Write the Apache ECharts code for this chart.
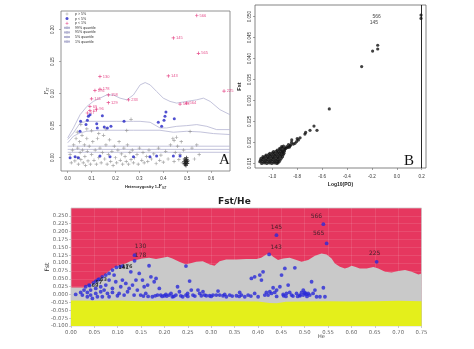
<!DOCTYPE html>
<html><head><meta charset="utf-8">
<script src="https://cdn.jsdelivr.net/npm/echarts@6/dist/echarts.min.js"></script>
<style>html,body{margin:0;padding:0;background:#fff}#c{width:474px;height:349px}</style>
</head><body><div id="c"></div>
<script>
// ================= Panel A (FST vs heterozygosity) =================
const aXTicks = [0, 0.1, 0.2, 0.3, 0.4, 0.5, 0.6];
const aYTicks = [0, 0.05, 0.10, 0.15, 0.20];
const aLegendNames = ['p > 5%', 'p < 5%', 'p < 1%', '99% quantile', '95% quantile', '5% quantile', '1% quantile'];
const aQ99 = [[0,0.031],[0.024,0.0465],[0.052,0.0672],[0.08,0.080],[0.107,0.0879],[0.135,0.093],[0.163,0.098],[0.191,0.098],[0.219,0.093],[0.247,0.0904],[0.275,0.098],[0.303,0.1137],[0.324,0.1173],[0.345,0.1137],[0.372,0.1034],[0.40,0.093],[0.428,0.0879],[0.456,0.0853],[0.498,0.0879],[0.54,0.0904],[0.568,0.093],[0.596,0.0879],[0.637,0.075],[0.679,0.0672]];
const aQ95 = [[0,0.0284],[0.024,0.0388],[0.052,0.0543],[0.08,0.0568],[0.135,0.0568],[0.205,0.0568],[0.275,0.0568],[0.303,0.0568],[0.345,0.0553],[0.386,0.0465],[0.414,0.0465],[0.456,0.049],[0.498,0.0501],[0.54,0.0517],[0.582,0.049],[0.623,0.0439],[0.679,0.0439]];
const aQ90 = [[0,0.0233],[0.024,0.0336],[0.052,0.0388],[0.08,0.0413],[0.135,0.0429],[0.275,0.0429],[0.386,0.0429],[0.442,0.0398],[0.498,0.0413],[0.554,0.0403],[0.61,0.0377],[0.679,0.0362]];
const aQ05 = [[0,0.018],[0.679,0.018]];
const aQ01 = [[0,0.013],[0.679,0.013]];
const aQ00 = [[0,0.0085],[0.679,0.0085]];
const aGrey = [[0.01,0.005],[0.015,-0.008],[0.02,0.012],[0.025,0.02],[0.03,-0.005],[0.035,0.03],[0.04,0.0],[0.042,0.015],[0.045,-0.01],[0.05,0.025],[0.052,0.008],[0.055,-0.003],[0.06,0.035],[0.062,0.012],[0.065,-0.008],[0.07,0.02],[0.072,0.002],[0.075,-0.012],[0.08,0.03],[0.082,0.01],[0.085,-0.005],[0.09,0.018],[0.095,-0.01],[0.1,0.005],[0.105,0.025],[0.11,-0.004],[0.115,0.012],[0.12,-0.01],[0.125,0.03],[0.13,0.0],[0.135,0.015],[0.14,-0.008],[0.145,0.008],[0.15,0.035],[0.155,-0.002],[0.16,0.02],[0.165,-0.01],[0.17,0.005],[0.175,0.028],[0.18,-0.006],[0.185,0.01],[0.19,-0.012],[0.195,0.018],[0.2,0.0],[0.205,-0.008],[0.21,0.012],[0.215,0.025],[0.22,-0.004],[0.225,0.006],[0.23,-0.01],[0.235,0.015],[0.24,0.002],[0.245,-0.006],[0.25,0.02],[0.255,-0.01],[0.26,0.008],[0.265,-0.003],[0.27,0.012],[0.275,-0.008],[0.28,0.0],[0.29,0.005],[0.295,-0.01],[0.3,0.015],[0.31,-0.004],[0.315,0.008],[0.32,-0.008],[0.33,0.002],[0.335,-0.006],[0.34,0.012],[0.35,-0.002],[0.36,0.006],[0.37,-0.009],[0.38,0.015],[0.385,-0.004],[0.39,0.004],[0.4,-0.007],[0.41,0.01],[0.42,-0.002],[0.43,0.02],[0.44,0.03],[0.445,-0.006],[0.45,0.008],[0.46,0.018],[0.465,-0.003],[0.47,0.005],[0.475,0.025],[0.48,-0.008],[0.485,0.012],[0.52,0.015],[0.53,-0.002],[0.54,0.02],[0.55,0.005],[0.04,0.04],[0.055,0.052],[0.08,0.045],[0.1,0.042],[0.13,0.038],[0.16,0.045],[0.247,0.0424],[0.265,0.06],[0.512,0.041],[0.445,0.027],[0.455,0.032]];
const aDense = [[0.488,-0.006],[0.49,-0.009],[0.492,-0.004],[0.494,-0.01],[0.496,-0.007],[0.498,-0.003],[0.5,-0.009],[0.502,-0.005],[0.49,-0.002],[0.495,-0.012],[0.497,0.0],[0.493,-0.007],[0.499,-0.006],[0.491,-0.011]];
const aBlue = [[0.0516,0.0413],[0.0767,0.0517],[0.0823,0.0584],[0.0865,0.0646],[0.0934,0.0672],[0.1213,0.0532],[0.145,0.0656],[0.124,0.0465],[0.153,0.0481],[0.166,0.0465],[0.181,0.049],[0.2357,0.0568],[0.379,0.0553],[0.393,0.049],[0.403,0.0584],[0.407,0.0646],[0.411,0.0713],[0.446,0.061],[0.054,0.057],[0.01,0.0],[0.031,0.0015],[0.045,0.0],[0.135,0.0026],[0.177,0.0015],[0.275,0.0015],[0.344,0.0015],[0.372,0.0026],[0.442,0.0026],[0.47,0.0026]];
const aRed = [[0.54,0.222,'566'],[0.442,0.187,'145'],[0.547,0.163,'565'],[0.421,0.1276,'143'],[0.654,0.104,'225'],[0.135,0.1266,'130'],[0.135,0.107,'178'],[0.17,0.098,'158'],[0.254,0.0904,'233'],[0.114,0.105,'176'],[0.1,0.092,'141'],[0.17,0.086,'129'],[0.121,0.076,'96'],[0.093,0.080,'69'],[0.093,0.0734,'63'],[0.082,0.0698,'57'],[0.47,0.0837,'563'],[0.498,0.0853,'564']];

// ================= Panel B (FST vs log10(PO)) =================
const bXTicks = [-1.0, -0.8, -0.6, -0.4, -0.2, 0.0, 0.2];
const bYTicks = [0.015, 0.020, 0.025, 0.030, 0.035, 0.040, 0.045, 0.050];
const bThreshold = 0.2;
const bLabels = [[-0.161,0.0500,'566'],[-0.183,0.0486,'145']];
const bPts = [[0.195,0.0504],[0.195,0.0496],[-0.153,0.0432],[-0.153,0.0423],[-0.194,0.0418],[-0.282,0.0381],[-0.542,0.0280],
[-0.641,0.0229],[-0.665,0.0239],[-0.697,0.0229],[-0.732,0.0224],[-0.738,0.0220],[-0.777,0.0211],[-0.79,0.0206],[-0.805,0.0202],[-0.80,0.0209],[-0.818,0.0198],[-0.831,0.0196],[-0.844,0.0206],[-0.845,0.0200],[-0.852,0.0194],[-0.858,0.0192],[-0.862,0.0189],[-0.87,0.0195],[-0.875,0.0188],[-0.885,0.0190],[-0.89,0.0186],
[-1.085,0.0150],[-1.065,0.0151],[-1.045,0.0150],[-1.025,0.0151],[-1.005,0.0150],[-0.985,0.0151],[-0.965,0.0150],[-0.955,0.0151],
[-1.10,0.0154],[-1.08,0.0155],[-1.06,0.0154],[-1.04,0.0155],[-1.02,0.0154],[-1.00,0.0155],[-0.98,0.0154],[-0.96,0.0155],[-0.945,0.0154],
[-1.095,0.0158],[-1.075,0.0159],[-1.055,0.0158],[-1.035,0.0159],[-1.015,0.0158],[-0.995,0.0159],[-0.975,0.0158],[-0.955,0.0159],[-0.937,0.0158],
[-1.09,0.0162],[-1.07,0.0163],[-1.05,0.0162],[-1.03,0.0163],[-1.01,0.0162],[-0.99,0.0163],[-0.97,0.0162],[-0.95,0.0163],[-0.928,0.0162],
[-1.075,0.0166],[-1.055,0.0167],[-1.035,0.0166],[-1.015,0.0167],[-0.995,0.0166],[-0.975,0.0167],[-0.955,0.0166],[-0.935,0.0167],[-0.918,0.0166],
[-1.05,0.0170],[-1.03,0.0171],[-1.01,0.0170],[-0.99,0.0171],[-0.97,0.0170],[-0.95,0.0171],[-0.93,0.0170],[-0.912,0.0171],
[-1.02,0.0174],[-1.0,0.0175],[-0.98,0.0174],[-0.96,0.0175],[-0.94,0.0174],[-0.925,0.0175],[-0.907,0.0174],
[-0.99,0.0178],[-0.97,0.0179],[-0.95,0.0178],[-0.93,0.0179],[-0.915,0.0178],[-0.903,0.0179],
[-0.96,0.0182],[-0.94,0.0183],[-0.92,0.0182],[-0.9,0.0183],
[-0.94,0.0186],[-0.92,0.0187],[-0.90,0.0186],
[-0.925,0.0190],[-0.91,0.0191]];

// ================= Panel C (Fst/He) =================
const cUpper = [[0,0.0227],[0.028,0.0227],[0.0386,0.030],[0.067,0.0564],[0.0886,0.0831],[0.103,0.0935],[0.117,0.099],[0.128,0.1062],[0.139,0.1094],[0.153,0.1148],[0.167,0.1167],[0.182,0.1126],[0.196,0.1167],[0.2065,0.120],[0.217,0.1148],[0.2316,0.104],[0.246,0.0958],[0.268,0.104],[0.282,0.106],[0.297,0.0958],[0.307,0.0913],[0.318,0.106],[0.332,0.1116],[0.354,0.1116],[0.375,0.1126],[0.397,0.1126],[0.407,0.1167],[0.418,0.1275],[0.424,0.1307],[0.4325,0.120],[0.443,0.1094],[0.454,0.1148],[0.468,0.1167],[0.4825,0.1094],[0.4933,0.104],[0.5076,0.1094],[0.522,0.123],[0.536,0.1307],[0.547,0.1275],[0.5576,0.1148],[0.5647,0.099],[0.5754,0.0882],[0.586,0.0831],[0.593,0.0862],[0.6005,0.0913],[0.6076,0.0882],[0.618,0.0831],[0.6326,0.0831],[0.647,0.0872],[0.6577,0.0831],[0.672,0.0723],[0.686,0.0703],[0.7006,0.0745],[0.7148,0.0777],[0.729,0.0723],[0.7435,0.064],[0.75,0.067]];
const cLower = [[0,-0.019],[0.05,-0.020],[0.1,-0.019],[0.15,-0.021],[0.2,-0.020],[0.25,-0.021],[0.3,-0.022],[0.35,-0.021],[0.4,-0.022],[0.425,-0.027],[0.44,-0.028],[0.46,-0.023],[0.5,-0.022],[0.55,-0.021],[0.6,-0.022],[0.65,-0.021],[0.7,-0.020],[0.75,-0.021]];
const cPts = [[0.0315,0.0247],[0.0386,0.030],[0.053,0.0427],[0.060,0.049],[0.067,0.0564],[0.0744,0.0617],[0.0815,0.067],[0.0887,0.0776],[0.110,0.0904],
[0.010,0.0003],[0.0207,0.0067],[0.0243,-0.0018],[0.0279,0.0141],[0.035,0.0067],[0.035,-0.0071],[0.042,0.0141],[0.042,-0.0018],[0.0458,-0.0124],[0.053,0.0194],[0.053,0.0035],[0.0565,-0.0071],[0.0636,0.0247],[0.0636,0.0088],[0.067,-0.0071],[0.0708,0.0141],[0.0744,0.030],[0.078,0.0035],[0.0815,0.0458],[0.0815,-0.0071],[0.0887,0.0194],[0.0887,0.0067],[0.0922,0.0617],[0.0958,0.0406],[0.0994,-0.0039],[0.103,0.0035],[0.1065,0.0247],[0.110,0.0458],[0.1137,-0.0018],[0.1173,0.0353],[0.121,0.0088],[0.1244,0.0194],[0.128,0.0723],[0.1316,0.030],[0.135,-0.0018],[0.139,0.0458],[0.142,0.0141],[0.146,0.067],[0.149,-0.0018],[0.153,0.0458],[0.1566,0.0247],[0.160,0.0035],[0.164,0.030],[0.167,0.0914],[0.171,0.0564],[0.174,-0.0071],[0.178,0.0406],[0.182,0.0511],[0.185,-0.0018],[0.189,0.0194],[0.192,-0.0018],[0.1995,-0.0039],[0.203,0.0003],[0.21,-0.0018],[0.214,0.0035],[0.217,-0.0071],[0.2245,-0.0018],[0.228,0.0247],[0.232,0.0088],[0.239,-0.0071],[0.246,0.0904],[0.246,-0.0018],[0.2495,0.0035],
[0.2538,0.0427],[0.2574,0.0141],[0.261,-0.0018],[0.2717,0.0141],[0.2753,0.0035],[0.2789,-0.0039],[0.2824,0.0088],[0.286,-0.0018],[0.2896,-0.0039],[0.2967,-0.0039],[0.3039,-0.0018],[0.311,-0.0018],[0.3146,0.011],[0.3182,-0.0018],[0.3253,-0.0039],[0.3289,0.0003],[0.3325,-0.0071],[0.3396,-0.0018],[0.354,-0.0039],[0.361,0.0067],[0.3647,-0.0018],[0.3718,-0.0071],[0.379,-0.0018],[0.386,0.0511],[0.393,0.0035],[0.393,0.0564],[0.4004,-0.0071],[0.404,0.0617],[0.4075,0.0458],[0.411,0.0723],[0.4147,-0.0018],[0.418,0.0067],[0.4218,-0.0018],[0.4254,0.0088],[0.429,0.0035],[0.4325,0.0215],[0.436,0.0067],[0.44,0.0141],[0.447,0.0247],[0.4505,0.0617],[0.454,0.0003],[0.4576,0.083],[0.461,0.0035],[0.4647,0.030],[0.468,0.0067],[0.4719,-0.0018],[0.479,0.085],[0.4826,0.0035],[0.4898,-0.0018],[0.4934,0.0067],[0.497,0.0141],[0.5005,0.0035],
[0.497,-0.0018],[0.5005,0.0067],[0.504,0.0003],[0.5076,0.0035],[0.511,-0.0018],[0.5148,0.0406],[0.518,0.0035],[0.522,0.0141],[0.5255,-0.0071],[0.5327,-0.0071],[0.54,0.0215],[0.5434,-0.0071],
[0.155,-0.005],[0.165,-0.006],[0.18,-0.004],[0.195,-0.006],[0.205,-0.005],[0.22,-0.006],[0.235,-0.004],[0.25,-0.006],[0.265,-0.005],[0.3,-0.006],[0.345,-0.005],[0.36,-0.006],[0.385,-0.005],[0.44,-0.006],[0.455,-0.004],[0.46,-0.006],[0.475,-0.005],[0.485,-0.006],[0.49,-0.004],[0.505,-0.006]];
const cNamed = [[0.136,0.125,'130'],[0.136,0.107,'178'],[0.4396,0.1887,'145'],[0.424,0.1275,'143'],[0.540,0.2236,'566'],[0.547,0.1624,'565'],[0.654,0.104,'225']];
const cEdgeNamed = [[0.040,0.028,'69'],[0.048,0.037,'57'],[0.058,0.047,'63'],[0.097,0.086,'141'],[0.105,0.089,'176']];

// ---------- styles (not data) ----------
const cLabelOffset = {'130':[6,-2],'178':[6,1],'145':[0,-1],'143':[7,0],'566':[-7,-1],'565':[-8,-3],'225':[-2,-1]};
const plusPath = 'path://M4,0h2v4h4v2h-4v4h-2v-4h-4v-2h4z';
const rFont = 'Liberation Sans';
const qColor = '#b4b4d2';

const chart = echarts.init(document.getElementById('c'), null, {renderer: 'canvas', width: 474, height: 349});

function rAxisLabel(ticks, digits, extra) {
  return Object.assign({customValues: ticks, fontSize: 4.5, color: '#333', fontFamily: rFont,
    formatter: v => Number(v).toFixed(digits)}, extra || {});
}
function qLine(name, data) {
  return {type: 'line', name, xAxisIndex: 0, yAxisIndex: 0, data, symbol: 'none', silent: true,
    lineStyle: {color: qColor, width: 0.8}, itemStyle: {color: qColor}, z: 1};
}
const subRich = {s: {fontSize: 3.5, fontStyle: 'italic', fontFamily: 'Liberation Serif', padding: [3, 0, 0, 0]},
                 i: {fontSize: 5.5, fontStyle: 'italic', fontFamily: 'Liberation Serif'}};

const option = {
  animation: false,
  backgroundColor: '#ffffff',
  legend: {
    data: aLegendNames, orient: 'vertical', left: 63, top: 12, padding: 0, itemGap: 0.6,
    itemWidth: 6, itemHeight: 3, textStyle: {fontSize: 3.6, color: '#333', fontFamily: rFont}, selectedMode: false
  },
  grid: [
    {left: 61, top: 11, width: 169, height: 160, show: true, borderColor: '#777', borderWidth: 0.8, backgroundColor: 'transparent'},
    {left: 255, top: 5, width: 171, height: 163, show: true, borderColor: '#666', borderWidth: 0.8, backgroundColor: 'transparent'},
    {left: 71, top: 208, width: 350.5, height: 118, show: true, borderColor: '#bbb', borderWidth: 0.6, backgroundColor: '#e6375f'}
  ],
  xAxis: [
    {gridIndex: 0, type: 'value', min: -0.028, max: 0.679,
      name: 'Heterozygosity 1-{i|F}{s|ST}', nameLocation: 'middle', nameGap: 12, nameMoveOverlap: false,
      nameTextStyle: {fontSize: 4, fontWeight: 'bold', color: '#222', fontFamily: rFont, rich: subRich},
      axisLine: {show: false, onZero: false}, splitLine: {show: false},
      axisTick: {customValues: aXTicks, length: 2, lineStyle: {color: '#777', width: 0.6}},
      axisLabel: rAxisLabel(aXTicks, 1, {margin: 5})},
    {gridIndex: 1, type: 'value', min: -1.139, max: 0.235,
      name: 'Log10(PO)', nameLocation: 'middle', nameGap: 14, nameMoveOverlap: false,
      nameTextStyle: {fontSize: 5, fontWeight: 'bold', color: '#222', fontFamily: rFont},
      axisLine: {show: false, onZero: false}, splitLine: {show: false},
      axisTick: {customValues: bXTicks, length: 2, lineStyle: {color: '#666', width: 0.6}},
      axisLabel: rAxisLabel(bXTicks, 1, {margin: 6})},
    {gridIndex: 2, type: 'value', min: 0, max: 0.75, interval: 0.05,
      axisLine: {show: false, onZero: false},
      splitLine: {show: true, lineStyle: {color: 'rgba(255,255,255,0.18)', width: 0.6}},
      axisTick: {show: true, length: 2, lineStyle: {color: '#aaa', width: 0.6}},
      axisLabel: {fontSize: 5.3, color: '#666', fontFamily: 'DejaVu Sans', margin: 4, formatter: v => v.toFixed(2)}}
  ],
  yAxis: [
    {gridIndex: 0, type: 'value', min: -0.0207, max: 0.229,
      name: '{i|F}{s|ST}', nameLocation: 'middle', nameGap: 11, nameRotate: 90, nameMoveOverlap: false,
      nameTextStyle: {fontSize: 5.5, color: '#222', fontFamily: 'Liberation Serif', rich: subRich},
      axisLine: {show: false, onZero: false}, splitLine: {show: false},
      axisTick: {customValues: aYTicks, length: 2, lineStyle: {color: '#777', width: 0.6}},
      axisLabel: rAxisLabel(aYTicks, 2, {rotate: 90, margin: 6})},
    {gridIndex: 1, type: 'value', min: 0.0139, max: 0.0528,
      name: 'Fst', nameLocation: 'middle', nameGap: 13, nameRotate: 90, nameMoveOverlap: false,
      nameTextStyle: {fontSize: 5.5, fontWeight: 'bold', color: '#222', fontFamily: rFont},
      axisLine: {show: false, onZero: false}, splitLine: {show: false},
      axisTick: {customValues: bYTicks, length: 2, lineStyle: {color: '#666', width: 0.6}},
      axisLabel: rAxisLabel(bYTicks, 3, {rotate: 90, margin: 3})},
    {gridIndex: 2, type: 'value', min: -0.1, max: 0.275, interval: 0.025,
      name: 'Fst', nameLocation: 'middle', nameGap: 21, nameRotate: 90, nameMoveOverlap: false,
      nameTextStyle: {fontSize: 6, color: '#333', fontFamily: 'DejaVu Sans'},
      axisLine: {show: false, onZero: false},
      splitLine: {show: true, lineStyle: {color: 'rgba(255,255,255,0.18)', width: 0.6}},
      axisTick: {show: true, length: 2, lineStyle: {color: '#aaa', width: 0.6}},
      axisLabel: {fontSize: 5.3, color: '#666', fontFamily: 'DejaVu Sans', margin: 3, showMaxLabel: false,
        formatter: v => (v > 0.26 ? '' : v.toFixed(3))}}
  ],
  graphic: [
    {type: 'text', left: 219, top: 153, style: {text: 'A', fontSize: 15, fontFamily: 'Liberation Serif', fill: '#111'}},
    {type: 'text', left: 404, top: 154, style: {text: 'B', fontSize: 15, fontFamily: 'Liberation Serif', fill: '#111'}},
    {type: 'text', left: 407, top: 306, style: {text: 'C', fontSize: 15, fontFamily: 'Liberation Serif', fill: '#111'}},
    {type: 'text', left: 218, top: 197, style: {text: 'Fst/He', fontSize: 9, fontWeight: 'bold', fontFamily: 'DejaVu Sans', fill: '#222'}},
    {type: 'text', left: 318, top: 334, style: {text: 'He', fontSize: 5, fontFamily: 'DejaVu Sans', fill: '#444'}}
  ],
  series: [
    // ---- A ----
    qLine('99% quantile', aQ99),
    qLine('95% quantile', aQ95),
    qLine('90% quantile', aQ90),
    qLine('5% quantile', aQ05),
    qLine('1% quantile', aQ01),
    qLine('0.5% quantile', aQ00),
    {type: 'scatter', name: 'p > 5%', xAxisIndex: 0, yAxisIndex: 0, data: aGrey, symbol: plusPath, symbolSize: 3.5,
      itemStyle: {color: '#8c8c8c'}, z: 2},
    {type: 'scatter', name: 'p > 5%', xAxisIndex: 0, yAxisIndex: 0, data: aDense, symbol: plusPath, symbolSize: 4,
      itemStyle: {color: '#1a1a1a'}, z: 2},
    {type: 'scatter', name: 'p < 5%', xAxisIndex: 0, yAxisIndex: 0, data: aBlue, symbol: 'circle', symbolSize: 3,
      itemStyle: {color: '#2424c4'}, z: 3},
    {type: 'scatter', name: 'p < 1%', xAxisIndex: 0, yAxisIndex: 0,
      data: aRed.map(d => ({value: [d[0], d[1]], name: d[2]})), symbol: plusPath, symbolSize: 3.5,
      itemStyle: {color: '#e0206e'}, z: 4,
      label: {show: true, position: 'right', distance: 1, formatter: '{b}', fontSize: 4, color: '#e0206e', fontFamily: rFont}},
    // ---- B ----
    {type: 'scatter', name: 'B', xAxisIndex: 1, yAxisIndex: 1, data: bPts, symbol: 'circle', symbolSize: 3.2,
      itemStyle: {color: '#111'},
      markLine: {silent: true, symbol: 'none', label: {show: false}, lineStyle: {color: '#111', width: 0.9, type: 'solid'},
        data: [{xAxis: bThreshold}]}},
    {type: 'scatter', name: 'Blab', xAxisIndex: 1, yAxisIndex: 1,
      data: bLabels.map(d => ({value: [d[0], d[1]], name: d[2]})), symbolSize: 0,
      label: {show: true, position: 'inside', formatter: '{b}', fontSize: 5, color: '#111', fontFamily: rFont}},
    // ---- C ----
    {type: 'line', name: 'Cgrey', xAxisIndex: 2, yAxisIndex: 2, data: cUpper, symbol: 'none', silent: true,
      lineStyle: {width: 0}, areaStyle: {color: '#c9c9c9', opacity: 1, origin: 'start'}, z: 1},
    {type: 'line', name: 'Cyellow', xAxisIndex: 2, yAxisIndex: 2, data: cLower, symbol: 'none', silent: true,
      lineStyle: {width: 0}, areaStyle: {color: '#e4ef1b', opacity: 1, origin: 'start'}, z: 1},
    {type: 'scatter', name: 'Cpts', xAxisIndex: 2, yAxisIndex: 2, data: cPts, symbol: 'circle', symbolSize: 3.8,
      itemStyle: {color: '#2b2bd8'}, z: 3},
    {type: 'scatter', name: 'Cedge', xAxisIndex: 2, yAxisIndex: 2,
      data: cEdgeNamed.map(d => ({value: [d[0], d[1]], name: d[2]})), symbol: 'circle', symbolSize: 3.8,
      itemStyle: {color: '#2b2bd8'}, z: 3,
      label: {show: true, position: 'right', distance: 0, formatter: '{b}', fontSize: 5, fontWeight: 'bold', color: '#111', fontFamily: 'DejaVu Sans'}},
    {type: 'scatter', name: 'Cnamed', xAxisIndex: 2, yAxisIndex: 2,
      data: cNamed.map(d => ({value: [d[0], d[1]], name: d[2],
        label: {offset: cLabelOffset[d[2]] || [0, 0]}})), symbol: 'circle', symbolSize: 3.8,
      itemStyle: {color: '#2b2bd8'}, z: 4,
      label: {show: true, position: 'top', distance: 2, formatter: '{b}', fontSize: 6, color: '#1a1a1a', fontFamily: 'DejaVu Sans'}}
  ]
};
chart.setOption(option);
</script>
</body></html>
